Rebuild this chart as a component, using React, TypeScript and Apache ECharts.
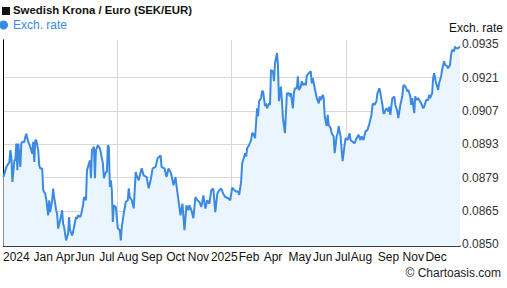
import React, { useEffect, useRef } from "react";
import * as echarts from "echarts";

// [session index, SEK/EUR rate] readings
const rateReadings: Array<[number, number]> = [
  [0, 0.08786], [3, 0.08829], [4, 0.08836], [6, 0.0885], [7, 0.089], [8, 0.08871], [9, 0.08765], [11, 0.08857], [12, 0.08857], [13, 0.08928],
  [14, 0.08815], [15, 0.08928], [17, 0.08829], [18, 0.08928], [19, 0.08935], [21, 0.08935], [22, 0.08956], [23, 0.0897], [25, 0.08935], [27, 0.08914],
  [29, 0.08885], [30, 0.08935], [31, 0.0885], [32, 0.08942], [33, 0.08942], [35, 0.089], [36, 0.08836], [37, 0.08822], [39, 0.08822], [40, 0.0873],
  [42, 0.08715], [43, 0.08694], [45, 0.08623], [46, 0.08687], [47, 0.08637], [49, 0.08687], [50, 0.08737], [51, 0.08701], [53, 0.08645], [54, 0.0863],
  [55, 0.08567], [57, 0.08602], [59, 0.08645], [60, 0.08588], [61, 0.08574], [63, 0.08517], [65, 0.08545], [66, 0.08616], [67, 0.0856], [69, 0.08538],
  [70, 0.08552], [71, 0.08574], [73, 0.08616], [74, 0.08609], [75, 0.08623], [77, 0.08616], [78, 0.08623], [80, 0.08666], [81, 0.08701], [83, 0.08687],
  [84, 0.08815], [85, 0.08829], [87, 0.08857], [88, 0.08781], [89, 0.089], [91, 0.08914], [92, 0.08781], [93, 0.089], [95, 0.08921], [97, 0.08907],
  [98, 0.08887], [100, 0.08844], [101, 0.08781], [103, 0.08807], [104, 0.08807], [105, 0.08921], [106, 0.08914], [107, 0.08744], [108, 0.08772], [109, 0.0873],
  [110, 0.08595], [111, 0.08666], [113, 0.08659], [115, 0.08568], [117, 0.0856], [118, 0.08517], [119, 0.08574], [121, 0.08632], [123, 0.0868], [125, 0.08687],
  [126, 0.08738], [127, 0.08701], [129, 0.08687], [131, 0.08653], [133, 0.08807], [134, 0.08793], [136, 0.08772], [138, 0.08807], [139, 0.08823], [141, 0.08793],
  [144, 0.08786], [146, 0.08738], [148, 0.08772], [150, 0.08823], [153, 0.08829], [155, 0.08866], [158, 0.08878], [159, 0.08829], [162, 0.08822], [164, 0.08786],
  [166, 0.08822], [168, 0.08807], [169, 0.08793], [171, 0.08751], [173, 0.08786], [174, 0.08751], [176, 0.08687], [178, 0.08623], [180, 0.08673], [182, 0.0856],
  [184, 0.08666], [186, 0.08645], [187, 0.08666], [189, 0.08645], [191, 0.08611], [193, 0.08701], [195, 0.08687], [197, 0.0868], [199, 0.08659], [201, 0.08708],
  [203, 0.08652], [205, 0.08687], [207, 0.08673], [209, 0.0873], [211, 0.08737], [212, 0.08687], [213, 0.08637], [215, 0.08715], [217, 0.0873], [219, 0.08737],
  [221, 0.08715], [223, 0.08701], [226, 0.08696], [228, 0.08687], [230, 0.08741], [232, 0.08731], [234, 0.08724], [236, 0.08724], [237, 0.0871], [239, 0.08768],
  [240, 0.08844], [241, 0.08858], [243, 0.08887], [244, 0.08873], [245, 0.08908], [247, 0.08922], [249, 0.08943], [250, 0.08972], [251, 0.08972], [253, 0.08951],
  [255, 0.09078], [256, 0.09044], [257, 0.09108], [259, 0.09121], [260, 0.0915], [261, 0.0915], [263, 0.09087], [264, 0.09099], [265, 0.09078], [267, 0.09099],
  [268, 0.09092], [269, 0.09241], [271, 0.09234], [272, 0.09193], [273, 0.09269], [275, 0.09312], [276, 0.09262], [277, 0.09108], [279, 0.0917], [280, 0.09108],
  [281, 0.09036], [283, 0.08972], [285, 0.09142], [287, 0.09142], [288, 0.09128], [289, 0.09142], [291, 0.09078], [292, 0.09142], [293, 0.09163], [295, 0.09163],
  [296, 0.09214], [297, 0.09156], [299, 0.0917], [300, 0.09193], [301, 0.09177], [303, 0.09184], [304, 0.09175], [305, 0.09217], [307, 0.09227], [309, 0.09235],
  [310, 0.09184], [311, 0.09206], [313, 0.09163], [314, 0.09142], [315, 0.09121], [317, 0.09099], [318, 0.09128], [319, 0.09113], [321, 0.09135], [322, 0.09121],
  [323, 0.09044], [325, 0.09002], [326, 0.0905], [327, 0.09007], [329, 0.08993], [330, 0.08972], [332, 0.08958], [333, 0.08887], [335, 0.08959], [336, 0.08972],
  [337, 0.09002], [339, 0.08958], [340, 0.08901], [341, 0.08853], [343, 0.08922], [344, 0.08951], [346, 0.08943], [348, 0.08972], [349, 0.08943], [351, 0.08936],
  [353, 0.08929], [355, 0.08951], [357, 0.08965], [359, 0.08943], [360, 0.08959], [362, 0.08943], [364, 0.0898], [366, 0.08986], [368, 0.09014], [370, 0.0905],
  [371, 0.09092], [372, 0.09099], [373, 0.09092], [375, 0.09108], [376, 0.09142], [378, 0.09163], [379, 0.09142], [381, 0.09092], [382, 0.09057], [383, 0.09057],
  [384, 0.09071], [385, 0.09078], [387, 0.09064], [388, 0.09085], [389, 0.0905], [391, 0.09121], [393, 0.09128], [394, 0.09092], [396, 0.09065], [397, 0.09036],
  [399, 0.09092], [401, 0.09129], [402, 0.09172], [403, 0.09177], [405, 0.09163], [406, 0.0915], [407, 0.09156], [409, 0.09129], [410, 0.09092], [411, 0.09121],
  [413, 0.09057], [414, 0.09129], [415, 0.09113], [417, 0.09121], [419, 0.09106], [420, 0.09099], [422, 0.09078], [423, 0.09085], [425, 0.09113], [427, 0.09113],
  [428, 0.09135], [429, 0.09121], [431, 0.09142], [432, 0.09206], [433, 0.09227], [435, 0.09184], [437, 0.09156], [438, 0.09184], [440, 0.09214], [441, 0.09241],
  [443, 0.09278], [444, 0.09262], [446, 0.09257], [447, 0.09248], [449, 0.09262], [450, 0.09305], [451, 0.09326], [453, 0.0932], [454, 0.0934], [455, 0.09333],
  [457, 0.09333], [459, 0.0934],
];

const xLabelNames = ["2024", "Jan", "Apr", "Jun", "Jul", "Aug", "Sep", "Oct", "Nov", "2025", "Feb", "Apr", "May", "Jun", "Jul", "Aug", "Sep", "Nov", "Dec"];
const xLabelSessions = [13, 40, 62, 82, 104, 125, 149, 173, 196, 222, 247, 271, 298, 321, 341, 360, 387, 412, 435];
const xGridSessions = [114.75, 229.5, 344.25];

const yTickLabels = ["0.0850", "0.0865", "0.0879", "0.0893", "0.0907", "0.0921", "0.0935"];
const yTickValues = [0.085, 0.0864167, 0.0878333, 0.08925, 0.0906667, 0.0920833, 0.0935];

const SESSION_MAX = 459;
const Y_MIN = 0.08493;
const Y_MAX = 0.09368;

const LINE = "#3b8ae2";
const FONT = "'Liberation Sans', Arial, sans-serif";

export default function App() {
  const ref = useRef<HTMLDivElement>(null);
  useEffect(() => {
    if (!ref.current) return;
    const chart = echarts.init(ref.current, null, { renderer: "svg" });
    const nearestIdx = (arr: number[], v: number) => {
      let best = 0;
      for (let i = 1; i < arr.length; i++) if (Math.abs(arr[i] - v) < Math.abs(arr[best] - v)) best = i;
      return best;
    };
    chart.setOption({
      animation: false,
      textStyle: { fontFamily: FONT },
      title: [
        {
          text: "Swedish Krona / Euro (SEK/EUR)",
          left: 13,
          top: 4,
          padding: 0,
          textStyle: { fontSize: 11.4, fontWeight: "bold", color: "#111", fontFamily: FONT },
        },
        {
          text: "Exch. rate",
          right: 4,
          top: 22,
          padding: 0,
          textStyle: { fontSize: 12, fontWeight: "normal", color: "#111", fontFamily: FONT },
        },
        {
          text: "© Chartoasis.com",
          right: 6,
          top: 267,
          padding: 0,
          textStyle: { fontSize: 12, fontWeight: "normal", color: "#222", fontFamily: FONT },
        },
      ],
      graphic: [
        { type: "rect", shape: { x: 2, y: 7, width: 8, height: 8 }, style: { fill: "#111" } },
      ],
      legend: {
        data: ["Exch. rate"],
        left: -1,
        top: 19,
        padding: 0,
        icon: "circle",
        itemWidth: 9,
        itemHeight: 9,
        textStyle: { color: LINE, fontSize: 12, fontFamily: FONT },
      },
      grid: { left: 1, right: 47, top: 40, bottom: 42, containLabel: false },
      xAxis: {
        type: "value",
        min: 0,
        max: SESSION_MAX,
        axisLine: { show: true, onZero: false, lineStyle: { color: "#000", width: 1.5 } },
        axisTick: { show: false, customValues: xGridSessions },
        splitLine: { show: true, lineStyle: { color: "#d8d8d8", width: 1 } },
        axisLabel: {
          customValues: xLabelSessions,
          margin: 5,
          color: "#111",
          fontSize: 12,
          fontFamily: FONT,
          formatter: (v: number) => xLabelNames[nearestIdx(xLabelSessions, v)],
        },
      },
      yAxis: [
        {
          type: "value",
          position: "right",
          min: Y_MIN,
          max: Y_MAX,
          axisLine: { show: true, lineStyle: { color: "#000", width: 1 } },
          axisTick: { show: false, customValues: yTickValues.slice(1, 6) },
          splitLine: { show: true, lineStyle: { color: "#d8d8d8", width: 1 } },
          axisLabel: {
            customValues: yTickValues,
            margin: 2,
            color: "#333",
            fontSize: 12,
            fontFamily: FONT,
            formatter: (v: number) => yTickLabels[nearestIdx(yTickValues, v)],
          },
        },
        {
          type: "value",
          position: "left",
          min: Y_MIN,
          max: Y_MAX,
          axisLine: { show: true, lineStyle: { color: "#000", width: 1 } },
          axisTick: { show: false },
          splitLine: { show: false },
          axisLabel: { show: false },
        },
      ],
      series: [
        {
          name: "Exch. rate",
          type: "line",
          data: rateReadings,
          xAxisIndex: 0,
          yAxisIndex: 0,
          showSymbol: false,
          symbol: "circle",
          itemStyle: { color: LINE },
          lineStyle: { color: LINE, width: 2 },
          areaStyle: { color: "#ebf5fe", opacity: 1 },
          silent: true,
        },
      ],
    });
    return () => chart.dispose();
  }, []);
  return (
    <div
      ref={ref}
      style={{ position: "fixed", left: 0, top: 0, width: 507, height: 288, background: "#fff" }}
    />
  );
}
